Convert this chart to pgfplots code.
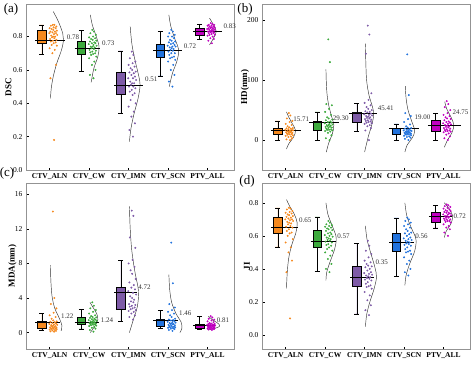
\documentclass[border=0pt]{standalone}
\usepackage{fontspec}
\setmainfont{Liberation Serif}
\usepackage{pgfplots}
\usepackage{pgfplotstable}
\pgfplotsset{compat=1.18}
\usepgfplotslibrary{statistics}
\definecolor{cA}{HTML}{F5891E}
\definecolor{cB}{HTML}{3DAA3D}
\definecolor{cC}{HTML}{7E5BA7}
\definecolor{cD}{HTML}{2273DD}
\definecolor{cE}{HTML}{C000C0}

% DSC
\pgfplotstableread{
j aln cw imn scn ptv
0.11 0.18 0.55 0.20 0.50 0.76
0.02 0.55 0.57 0.24 0.53 0.775
0.16 0.63 0.60 0.28 0.57 0.785
0.07 0.70 0.63 0.32 0.60 0.79
0.13 0.72 0.65 0.35 0.63 0.80
0.00 0.73 0.67 0.38 0.65 0.805
0.18 0.745 0.68 0.40 0.66 0.81
0.05 0.75 0.69 0.42 0.67 0.81
0.10 0.76 0.695 0.45 0.675 0.815
0.15 0.765 0.70 0.46 0.68 0.82
0.03 0.77 0.705 0.47 0.69 0.82
0.08 0.775 0.71 0.48 0.70 0.825
0.17 0.78 0.715 0.49 0.70 0.825
0.01 0.785 0.72 0.50 0.71 0.83
0.12 0.79 0.725 0.50 0.715 0.83
0.06 0.795 0.73 0.51 0.72 0.83
0.14 0.80 0.735 0.52 0.725 0.835
0.09 0.80 0.74 0.52 0.73 0.835
0.04 0.805 0.74 0.53 0.735 0.84
0.19 0.81 0.745 0.54 0.74 0.84
0.11 0.815 0.75 0.55 0.74 0.84
-0.01 0.82 0.755 0.55 0.745 0.845
0.16 0.82 0.76 0.56 0.75 0.845
0.07 0.825 0.76 0.57 0.755 0.85
0.13 0.83 0.765 0.58 0.76 0.85
0.02 0.83 0.77 0.585 0.765 0.85
0.18 0.835 0.775 0.59 0.77 0.855
0.09 0.84 0.78 0.60 0.775 0.855
0.05 0.845 0.785 0.61 0.78 0.86
0.15 0.85 0.79 0.62 0.79 0.86
0.00 0.85 0.795 0.63 0.80 0.865
0.10 0.855 0.80 0.64 0.80 0.865
0.17 0.86 0.81 0.65 0.81 0.87
0.03 0.865 0.82 0.67 0.82 0.87
0.12 0.87 0.83 0.69 0.83 0.875
0.08 0.87 0.84 0.71 0.84 0.88
}\tabA

% HD
\pgfplotstableread{
j aln cw imn scn ptv
0.11 0 0 0 0 0
0.02 1 3 16 2 3
0.16 3 8 20 4 6
0.07 5 12 23 5 9
0.13 6 14 25 6 11
0.00 7 15 27 7 13
0.18 8 16 28 8 14
0.05 9 17 29 9 15
0.10 9.5 17 30 9 15
0.15 10 18 31 10 16
0.03 11 19 32 10 17
0.08 12 20 33 11 18
0.17 12 21 34 11 19
0.01 13 22 35 12 20
0.12 13 22 36 12 21
0.06 14 23 37 13 22
0.14 14 24 38 13 23
0.09 15 25 39 14 24
0.04 15 25 40 14 25
0.19 16 26 41 15 26
0.11 16 27 42 15 27
-0.01 17 28 43 16 28
0.16 17 29 44 16 29
0.07 18 30 46 17 30
0.13 19 31 47 18 31
0.02 19.5 33 48 19 33
0.18 20 34 50 20 35
0.09 21 36 52 21 36
0.05 23 38 55 23 38
0.15 25 42 58 26 40
0.00 27 47 62 30 42
0.10 30 52 67 35 45
0.17 32 58 78 40 50
0.03 36 60 144 45 55
0.12 41 130 176 75 60
0.08 45 168 191 143 65
}\tabB

% MDA
\pgfplotstableread{
j aln cw imn scn ptv
0.11 0.10 0.1 1.5 0.2 0.3
0.02 0.15 0.3 1.8 0.3 0.35
0.16 0.20 0.45 2.0 0.4 0.4
0.07 0.25 0.55 2.2 0.45 0.42
0.13 0.30 0.65 2.4 0.5 0.45
0.00 0.35 0.75 2.5 0.55 0.48
0.18 0.40 0.8 2.6 0.6 0.5
0.05 0.42 0.85 2.7 0.62 0.52
0.10 0.45 0.9 2.8 0.65 0.55
0.15 0.48 0.95 2.9 0.7 0.58
0.03 0.50 1.0 3.0 0.75 0.6
0.08 0.55 1.0 3.1 0.8 0.62
0.17 0.60 1.05 3.2 0.85 0.65
0.01 0.62 1.1 3.3 0.9 0.68
0.12 0.65 1.1 3.5 0.95 0.7
0.06 0.70 1.15 3.6 1.0 0.72
0.14 0.75 1.2 3.8 1.0 0.75
0.09 0.80 1.25 4.0 1.05 0.78
0.04 0.85 1.3 4.2 1.1 0.8
0.19 0.90 1.35 4.4 1.15 0.82
0.11 0.95 1.4 4.6 1.2 0.85
-0.01 1.00 1.45 4.8 1.25 0.88
0.16 1.05 1.5 5.0 1.3 0.9
0.07 1.10 1.55 5.2 1.4 0.92
0.13 1.20 1.6 5.5 1.45 0.95
0.02 1.25 1.7 5.8 1.5 0.98
0.18 1.30 1.75 6.2 1.6 1.0
0.09 1.40 1.8 6.8 1.8 1.05
0.05 1.60 1.9 7.2 2.0 1.1
0.15 1.80 2.0 7.6 2.2 1.2
0.00 2.00 2.2 8.0 2.4 1.3
0.10 2.30 2.4 8.4 2.6 1.4
0.17 2.80 2.6 9.8 2.9 1.5
0.03 3.30 2.8 11.0 3.3 1.6
0.12 4.00 3.1 13.5 5.7 1.75
0.08 14.0 3.5 14.1 10.4 1.9
}\tabC

% JI
\pgfplotstableread{
j aln cw imn scn ptv
0.11 0.10 0.38 0.12 0.36 0.60
0.02 0.38 0.40 0.15 0.38 0.62
0.16 0.45 0.43 0.18 0.40 0.64
0.07 0.50 0.46 0.21 0.43 0.65
0.13 0.53 0.48 0.24 0.45 0.66
0.00 0.56 0.50 0.26 0.47 0.67
0.18 0.58 0.51 0.28 0.49 0.68
0.05 0.60 0.52 0.29 0.50 0.685
0.10 0.615 0.53 0.295 0.505 0.69
0.15 0.62 0.54 0.30 0.51 0.69
0.03 0.63 0.545 0.31 0.52 0.695
0.08 0.64 0.55 0.32 0.53 0.70
0.17 0.65 0.56 0.33 0.54 0.70
0.01 0.655 0.565 0.335 0.545 0.705
0.12 0.66 0.57 0.34 0.55 0.71
0.06 0.67 0.575 0.345 0.555 0.71
0.14 0.675 0.58 0.35 0.56 0.715
0.09 0.68 0.585 0.355 0.565 0.72
0.04 0.685 0.59 0.36 0.57 0.72
0.19 0.69 0.595 0.365 0.575 0.725
0.11 0.695 0.60 0.37 0.58 0.73
-0.01 0.70 0.605 0.375 0.585 0.73
0.16 0.70 0.61 0.38 0.59 0.735
0.07 0.705 0.615 0.39 0.60 0.74
0.13 0.71 0.62 0.40 0.61 0.74
0.02 0.715 0.63 0.41 0.615 0.745
0.18 0.72 0.635 0.415 0.62 0.75
0.09 0.725 0.64 0.42 0.63 0.75
0.05 0.73 0.645 0.43 0.64 0.755
0.15 0.735 0.65 0.44 0.65 0.76
0.00 0.74 0.655 0.45 0.66 0.765
0.10 0.745 0.66 0.47 0.67 0.77
0.17 0.75 0.665 0.49 0.68 0.775
0.03 0.76 0.67 0.51 0.69 0.78
0.12 0.765 0.68 0.54 0.70 0.785
0.08 0.77 0.69 0.57 0.71 0.79
}\tabD

\pgfplotsset{
  panel/.style={scale only axis, width=208pt, height=166pt,
    xmin=0.4, xmax=5.67, xtick={1,2,3,4,5},
    xticklabels={CTV\_ALN,CTV\_CW,CTV\_IMN,CTV\_SCN,PTV\_ALL},
    xtick pos=bottom, ytick pos=left, tick align=inside,
    major tick length=2.5pt,
    axis line style={draw=gray!85, line width=0.9pt},
    tick style={black, line width=0.4pt},
    xticklabel style={font=\bfseries\fontsize{7.5}{8}\selectfont},
    yticklabel style={font=\fontsize{7.5}{8}\selectfont},
    ylabel style={font=\bfseries\fontsize{9}{10}\selectfont, anchor=center},
    /pgf/number format/assume math mode=true,
    clip=false},
  vio/.style={black!80, line width=0.45pt, smooth, tension=0.55, mark=none},
  dots/.style={only marks, draw=#1, fill=#1, mark=*, mark size=0.75pt, mark options={solid, draw=#1, fill=#1}},
  bx/.style={fill=#1, draw=black, line width=0.4pt, solid, mark=none,
    boxplot/draw direction=y,
    boxplot/box extend=0.22, boxplot/whisker extend=0.12},
  mline/.style={black, line width=0.5pt, mark=none},
}
\tikzset{mlab/.style={anchor=west, font=\fontsize{7}{8}\selectfont, text=black!80, inner sep=0.5pt}}

\begin{document}
\begin{tikzpicture}
\useasboundingbox (0,0) rectangle (474pt,-365pt);

% ---------------- (a) DSC
\begin{axis}[panel, at={(26pt,-4pt)}, anchor=north west,
  ymin=0, ymax=0.995, ytick={0,0.2,0.4,0.6,0.8},
  yticklabel style={/pgf/number format/.cd,fixed,fixed zerofill,precision=1},
  ylabel={DSC}, ylabel style={at={(axis description cs:-0.085,0.5)}}]
\addplot[vio] coordinates {(1.09,0.95) (1.22,0.89) (1.33,0.82) (1.35,0.78) (1.30,0.72) (1.18,0.64) (1.09,0.56) (1.04,0.49) (1.02,0.43)};
\addplot[vio] coordinates {(2.03,0.93) (2.08,0.87) (2.18,0.80) (2.25,0.74) (2.22,0.68) (2.12,0.61) (2.05,0.525)};
\addplot[vio] coordinates {(3.04,0.86) (3.08,0.76) (3.15,0.67) (3.25,0.57) (3.29,0.51) (3.24,0.43) (3.14,0.34) (3.06,0.25) (3.02,0.17)};
\addplot[vio] coordinates {(4.02,0.93) (4.07,0.86) (4.18,0.78) (4.27,0.72) (4.22,0.65) (4.11,0.58) (4.03,0.50)};
\addplot[vio] coordinates {(5.05,0.91) (5.15,0.87) (5.22,0.83) (5.15,0.79) (5.05,0.75)};
\addplot[dots=cA] table[x expr=1+\thisrow{j}, y=aln] {\tabA};
\addplot[dots=cB] table[x expr=2+\thisrow{j}, y=cw] {\tabA};
\addplot[dots=cC] table[x expr=3+\thisrow{j}, y=imn] {\tabA};
\addplot[dots=cD] table[x expr=4+\thisrow{j}, y=scn] {\tabA};
\addplot[dots=cE] table[x expr=5+\thisrow{j}, y=ptv] {\tabA};
\addplot[bx=cA, boxplot prepared={draw position=0.8, lower whisker=0.695, lower quartile=0.76, median=0.78, upper quartile=0.835, upper whisker=0.87}] coordinates {};
\addplot[bx=cB, boxplot prepared={draw position=1.8, lower whisker=0.59, lower quartile=0.695, median=0.73, upper quartile=0.77, upper whisker=0.835}] coordinates {};
\addplot[bx=cC, boxplot prepared={draw position=2.8, lower whisker=0.34, lower quartile=0.455, median=0.51, upper quartile=0.585, upper whisker=0.715}] coordinates {};
\addplot[bx=cD, boxplot prepared={draw position=3.8, lower whisker=0.565, lower quartile=0.675, median=0.72, upper quartile=0.755, upper whisker=0.83}] coordinates {};
\addplot[bx=cE, boxplot prepared={draw position=4.8, lower whisker=0.785, lower quartile=0.81, median=0.83, upper quartile=0.85, upper whisker=0.875}] coordinates {};
\addplot[mline] coordinates {(0.63,0.78) (1.39,0.78)};
\addplot[mline] coordinates {(1.63,0.73) (2.28,0.73)};
\addplot[mline] coordinates {(2.63,0.51) (3.37,0.51)};
\addplot[mline] coordinates {(3.63,0.72) (4.35,0.72)};
\addplot[mline] coordinates {(4.63,0.83) (5.36,0.83)};
\node[mlab] at (axis cs:1.42,0.794) {0.78};
\node[mlab] at (axis cs:2.31,0.762) {0.73};
\node[mlab] at (axis cs:3.40,0.545) {0.51};
\node[mlab] at (axis cs:4.38,0.744) {0.72};
\node[mlab] at (axis cs:5.39,0.864) {0.83};
\end{axis}

% ---------------- (b) HD
\begin{axis}[panel, at={(262pt,-4pt)}, anchor=north west,
  ymin=-50, ymax=227, ytick={0,100,200},
  ylabel={HD(mm)}, ylabel style={at={(axis description cs:-0.082,0.5)}}]
\addplot[vio] coordinates {(1.02,47) (1.08,38) (1.17,27) (1.25,16) (1.20,5) (1.08,-6) (1.02,-15)};
\addplot[vio] coordinates {(2.02,118) (2.03,95) (2.05,75) (2.09,58) (2.16,40) (2.22,25) (2.18,10) (2.09,-5) (2.03,-20)};
\addplot[vio] coordinates {(3.02,161) (3.03,130) (3.05,100) (3.11,75) (3.20,55) (3.23,42) (3.18,25) (3.09,5) (3.00,-20)};
\addplot[vio] coordinates {(4.03,90) (4.05,70) (4.10,50) (4.20,30) (4.27,15) (4.20,3) (4.08,-8) (4.02,-20)};
\addplot[vio] coordinates {(5.03,64) (5.08,52) (5.19,38) (5.26,25) (5.21,12) (5.10,0) (5.02,-12)};
\addplot[dots=cA] table[x expr=1+\thisrow{j}, y=aln] {\tabB};
\addplot[dots=cB] table[x expr=2+\thisrow{j}, y=cw] {\tabB};
\addplot[dots=cC] table[x expr=3+\thisrow{j}, y=imn] {\tabB};
\addplot[dots=cD] table[x expr=4+\thisrow{j}, y=scn] {\tabB};
\addplot[dots=cE] table[x expr=5+\thisrow{j}, y=ptv] {\tabB};
\addplot[bx=cA, boxplot prepared={draw position=0.8, lower whisker=0, lower quartile=10, median=15.71, upper quartile=19.4, upper whisker=32}] coordinates {};
\addplot[bx=cB, boxplot prepared={draw position=1.8, lower whisker=0, lower quartile=17, median=29.3, upper quartile=32, upper whisker=47}] coordinates {};
\addplot[bx=cC, boxplot prepared={draw position=2.8, lower whisker=15, lower quartile=30, median=45.41, upper quartile=46, upper whisker=61}] coordinates {};
\addplot[bx=cD, boxplot prepared={draw position=3.8, lower whisker=0, lower quartile=10, median=19.0, upper quartile=19.5, upper whisker=27}] coordinates {};
\addplot[bx=cE, boxplot prepared={draw position=4.8, lower whisker=0, lower quartile=15, median=24.75, upper quartile=33, upper whisker=45}] coordinates {};
\addplot[mline] coordinates {(0.62,15.71) (1.40,15.71)};
\addplot[mline] coordinates {(1.60,29.30) (2.35,29.30)};
\addplot[mline] coordinates {(2.60,45.41) (3.32,45.41)};
\addplot[mline] coordinates {(3.62,19.00) (4.37,19.00)};
\addplot[mline] coordinates {(4.60,24.75) (5.45,24.75)};
\node[mlab] at (axis cs:1.18,34.5) {15.71};
\node[mlab] at (axis cs:2.18,37.1) {29.30};
\node[mlab] at (axis cs:3.32,53.2) {45.41};
\node[mlab] at (axis cs:4.25,37.3) {19.00};
\node[mlab] at (axis cs:5.21,46.8) {24.75};
\end{axis}

% ---------------- (c) MDA
\begin{axis}[panel, at={(26pt,-183pt)}, anchor=north west,
  ymin=-1.9, ymax=17.3, ytick={0,4,8,12,16},
  ylabel={MDA(mm)}, ylabel style={at={(axis description cs:-0.065,0.5)}}]
\addplot[vio] coordinates {(1.02,7.8) (1.03,6.0) (1.06,4.2) (1.13,2.8) (1.25,1.6) (1.31,0.8) (1.29,0.2)};
\addplot[vio] coordinates {(2.02,3.5) (2.10,2.9) (2.19,2.2) (2.22,1.5) (2.15,0.8) (2.03,0.0)};
\addplot[vio] coordinates {(3.02,14.6) (3.04,12) (3.08,9.5) (3.16,7) (3.25,4.8) (3.22,3) (3.12,1.5) (3.02,0)};
\addplot[vio] coordinates {(4.02,6.7) (4.04,5) (4.09,3.5) (4.20,2.2) (4.33,1.2) (4.35,0.5) (4.30,0)};
\addplot[vio] coordinates {(5.02,1.9) (5.12,1.5) (5.28,1.0) (5.30,0.7) (5.15,0.45) (5.02,0.3)};
\addplot[dots=cA] table[x expr=1+\thisrow{j}, y=aln] {\tabC};
\addplot[dots=cB] table[x expr=2+\thisrow{j}, y=cw] {\tabC};
\addplot[dots=cC] table[x expr=3+\thisrow{j}, y=imn] {\tabC};
\addplot[dots=cD] table[x expr=4+\thisrow{j}, y=scn] {\tabC};
\addplot[dots=cE] table[x expr=5+\thisrow{j}, y=ptv] {\tabC};
\addplot[bx=cA, boxplot prepared={draw position=0.8, lower whisker=0.3, lower quartile=0.45, median=1.22, upper quartile=1.27, upper whisker=2.23}] coordinates {};
\addplot[bx=cB, boxplot prepared={draw position=1.8, lower whisker=0.42, lower quartile=0.92, median=1.24, upper quartile=1.77, upper whisker=2.7}] coordinates {};
\addplot[bx=cC, boxplot prepared={draw position=2.8, lower whisker=1.3, lower quartile=2.73, median=4.72, upper quartile=5.23, upper whisker=8.38}] coordinates {};
\addplot[bx=cD, boxplot prepared={draw position=3.8, lower whisker=0.46, lower quartile=0.69, median=1.46, upper quartile=1.5, upper whisker=2.6}] coordinates {};
\addplot[bx=cE, boxplot prepared={draw position=4.8, lower whisker=0.4, lower quartile=0.54, median=0.81, upper quartile=1.0, upper whisker=1.85}] coordinates {};
\addplot[mline] coordinates {(0.63,1.22) (1.25,1.22)};
\addplot[mline] coordinates {(1.63,1.24) (2.26,1.24)};
\addplot[mline] coordinates {(2.63,4.72) (3.21,4.72)};
\addplot[mline] coordinates {(3.63,1.46) (4.24,1.46)};
\addplot[mline] coordinates {(4.63,0.81) (5.19,0.81)};
\node[mlab] at (axis cs:1.27,1.84) {1.22};
\node[mlab] at (axis cs:2.28,1.47) {1.24};
\node[mlab] at (axis cs:3.23,5.21) {4.72};
\node[mlab] at (axis cs:4.26,2.23) {1.46};
\node[mlab] at (axis cs:5.22,1.38) {0.81};
\end{axis}

% ---------------- (d) JI
\begin{axis}[panel, at={(262pt,-183pt)}, anchor=north west,
  ymin=-0.085, ymax=0.92, ytick={0,0.2,0.4,0.6,0.8},
  yticklabel style={/pgf/number format/.cd,fixed,fixed zerofill,precision=1},
  ylabel={JI}, ylabel style={at={(axis description cs:-0.072,0.5)}}]
\addplot[vio] coordinates {(1.02,0.82) (1.10,0.78) (1.22,0.73) (1.29,0.68) (1.26,0.62) (1.16,0.55) (1.08,0.47) (1.04,0.38) (1.02,0.28)};
\addplot[vio] coordinates {(2.02,0.80) (2.07,0.73) (2.18,0.66) (2.28,0.59) (2.24,0.52) (2.12,0.44) (2.04,0.38) (2.02,0.33)};
\addplot[vio] coordinates {(3.02,0.66) (3.06,0.58) (3.15,0.50) (3.26,0.41) (3.30,0.35) (3.24,0.28) (3.12,0.19) (3.05,0.12) (3.02,0.05)};
\addplot[vio] coordinates {(4.02,0.80) (4.07,0.72) (4.18,0.65) (4.30,0.58) (4.27,0.51) (4.14,0.43) (4.05,0.36) (4.02,0.30)};
\addplot[vio] coordinates {(5.02,0.80) (5.12,0.77) (5.23,0.72) (5.18,0.67) (5.07,0.63) (5.02,0.59)};
\addplot[dots=cA] table[x expr=1+\thisrow{j}, y=aln] {\tabD};
\addplot[dots=cB] table[x expr=2+\thisrow{j}, y=cw] {\tabD};
\addplot[dots=cC] table[x expr=3+\thisrow{j}, y=imn] {\tabD};
\addplot[dots=cD] table[x expr=4+\thisrow{j}, y=scn] {\tabD};
\addplot[dots=cE] table[x expr=5+\thisrow{j}, y=ptv] {\tabD};
\addplot[bx=cA, boxplot prepared={draw position=0.8, lower whisker=0.533, lower quartile=0.618, median=0.65, upper quartile=0.715, upper whisker=0.77}] coordinates {};
\addplot[bx=cB, boxplot prepared={draw position=1.8, lower whisker=0.385, lower quartile=0.533, median=0.57, upper quartile=0.632, upper whisker=0.715}] coordinates {};
\addplot[bx=cC, boxplot prepared={draw position=2.8, lower whisker=0.128, lower quartile=0.294, median=0.35, upper quartile=0.415, upper whisker=0.555}] coordinates {};
\addplot[bx=cD, boxplot prepared={draw position=3.8, lower whisker=0.354, lower quartile=0.506, median=0.56, upper quartile=0.614, upper whisker=0.709}] coordinates {};
\addplot[bx=cE, boxplot prepared={draw position=4.8, lower whisker=0.648, lower quartile=0.685, median=0.72, upper quartile=0.745, upper whisker=0.786}] coordinates {};
\addplot[mline] coordinates {(0.63,0.65) (1.31,0.65)};
\addplot[mline] coordinates {(1.63,0.57) (2.27,0.57)};
\addplot[mline] coordinates {(2.63,0.35) (3.24,0.35)};
\addplot[mline] coordinates {(3.63,0.56) (4.25,0.56)};
\addplot[mline] coordinates {(4.63,0.72) (5.22,0.72)};
\node[mlab] at (axis cs:1.32,0.692) {0.65};
\node[mlab] at (axis cs:2.29,0.596) {0.57};
\node[mlab] at (axis cs:3.26,0.44) {0.35};
\node[mlab] at (axis cs:4.27,0.596) {0.56};
\node[mlab] at (axis cs:5.24,0.72) {0.72};
\end{axis}

\node[font=\fontsize{13}{14}\selectfont] at (11pt,-9pt) {(a)};
\node[font=\fontsize{13}{14}\selectfont] at (245pt,-9pt) {(b)};
\node[font=\fontsize{13}{14}\selectfont] at (7pt,-173pt) {(c)};
\node[font=\fontsize{13}{14}\selectfont] at (247pt,-181pt) {(d)};
\end{tikzpicture}
\end{document}
